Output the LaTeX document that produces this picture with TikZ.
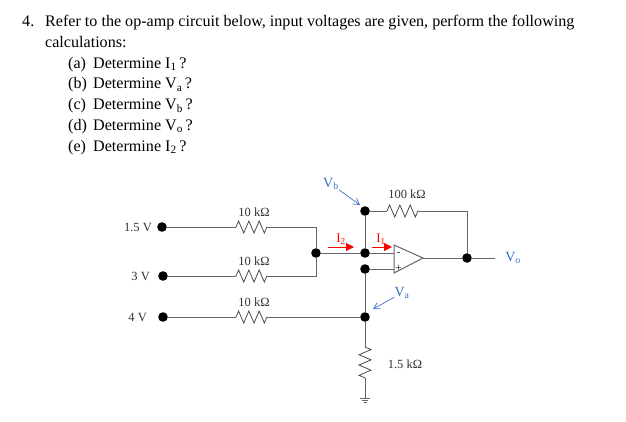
\documentclass[tikz,border=0pt]{standalone}
\usepackage{fontspec}
\setmainfont{Liberation Serif}
\usetikzlibrary{arrows.meta, decorations.pathmorphing}

\begin{document}
\begin{tikzpicture}[
    x=1pt, y=-1pt,
    wire/.style={draw=black!60, line width=1pt},
    res/.style={draw=black!70, line width=0.8pt, decorate, decoration={zigzag, segment length=10.3pt, amplitude=6pt}},
    dot/.style={circle, fill=black, inner sep=0pt, minimum size=9.6pt},
    line/.style={anchor=base west, inner sep=0pt, font=\fontsize{16.1}{18}\selectfont},
    lab/.style={inner sep=0pt, font=\fontsize{12.5}{14}\selectfont, text=black!80},
    volt/.style={lab, anchor=east},
    iarrow/.style={-{Triangle[length=8pt,width=8pt]}, red, line width=1pt},
    varrow/.style={-{Straight Barb[length=6pt,width=7pt]}, draw={rgb,255:red,68;green,114;blue,196}, line width=0.7pt},
    blue lab/.style={inner sep=0pt, font=\fontsize{14}{15}\selectfont, text={rgb,255:red,46;green,117;blue,200}}
  ]
  \useasboundingbox[fill=white] (0,0) rectangle (626,421);

  % question text
  \node[line] (num)  at (22,26)  {4.};
  \node[line] (txt1) at (45,26)  {Refer to the op-amp circuit below, input voltages are given, perform the following};
  \node[line] (txt2) at (45,47)  {calculations:};
  \node[line] (a1) at (68,68)    {(a)};
  \node[line] (a2) at (93,68)    {Determine I\textsubscript{1}\,?};
  \node[line] (b1) at (68,88.5)  {(b)};
  \node[line] (b2) at (93,88.5)  {Determine V\textsubscript{a}\,?};
  \node[line] (c1) at (68,109.5) {(c)};
  \node[line] (c2) at (93,109.5) {Determine V\textsubscript{b}\,?};
  \node[line] (d1) at (68,130)   {(d)};
  \node[line] (d2) at (93,130)   {Determine V\textsubscript{o}\,?};
  \node[line] (e1) at (68,151)   {(e)};
  \node[line] (e2) at (93,151)   {Determine I\textsubscript{2}\,?};

  % junctions
  \node[dot] (in1)  at (162,227) {};
  \node[dot] (in2)  at (163,276) {};
  \node[dot] (in3)  at (163,317) {};
  \node[dot] (sum)  at (316,253) {};
  \node[dot] (top)  at (365,211) {};
  \node[dot] (nminus) at (365,253) {};
  \node[dot] (nplus)  at (365,269) {};
  \node[dot] (nva)  at (365,317) {};
  \node[dot] (out)  at (467,258) {};

  % resistor ends and wire corners
  \coordinate (r1a) at (236,227);  \coordinate (r1b) at (267,227);
  \coordinate (r2a) at (236,276);  \coordinate (r2b) at (267,276);
  \coordinate (r3a) at (236,317);  \coordinate (r3b) at (267,317);
  \coordinate (rfa) at (387,211);  \coordinate (rfb) at (419,211);
  \coordinate (rga) at (365,347);  \coordinate (rgb) at (365,378);
  \coordinate (gnd) at (365,398);
  \coordinate (k1)  at (316,227);  \coordinate (k2)  at (316,276);
  \coordinate (kf)  at (467,211);
  \coordinate (vout) at (495,258);
  \coordinate (g1l) at (360,398);  \coordinate (g1r) at (370,398);
  \coordinate (g2l) at (362,400.5);\coordinate (g2r) at (368,400.5);
  \coordinate (g3l) at (363.5,402.5);\coordinate (g3r) at (366.5,402.5);

  % op-amp
  \coordinate (oa) at (394,245);
  \coordinate (ob) at (394,273);
  \coordinate (oc) at (423,258);
  \coordinate (om) at (394,253);
  \coordinate (op) at (394,269);
  \draw[wire] (oa) -- (oc) -- (ob) -- cycle;
  \node[inner sep=0pt, font=\fontsize{10}{10}\selectfont] (minus) at (398.5,254) {-};
  \node[inner sep=0pt, font=\fontsize{11}{11}\selectfont] (plus)  at (398.5,268) {+};

  % wires
  \draw[wire] (in1) -- (r1a);
  \draw[res]  (r1a) -- (r1b);
  \draw[wire] (r1b) -- (k1) -- (sum);
  \draw[wire] (in2) -- (r2a);
  \draw[res]  (r2a) -- (r2b);
  \draw[wire] (r2b) -- (k2) -- (sum);
  \draw[wire] (in3) -- (r3a);
  \draw[res]  (r3a) -- (r3b);
  \draw[wire] (r3b) -- (nva);
  \draw[wire] (sum) -- (nminus);
  \draw[wire] (top) -- (nminus);
  \draw[wire] (nminus) -- (om);
  \draw[wire] (nplus) -- (op);
  \draw[wire] (nplus) -- (nva);
  \draw[wire] (top) -- (rfa);
  \draw[res]  (rfa) -- (rfb);
  \draw[wire] (rfb) -- (kf) -- (out);
  \draw[wire] (oc) -- (out);
  \draw[wire] (out) -- (vout);
  \draw[wire] (nva) -- (rga);
  \draw[res]  (rga) -- (rgb);
  \draw[wire] (rgb) -- (gnd);
  \draw[wire] (g1l) -- (g1r);
  \draw[wire] (g2l) -- (g2r);
  \draw[wire] (g3l) -- (g3r);

  % labels
  \node[volt] (v1) at (152,227) {1.5 V};
  \node[volt] (v2) at (150,276) {3 V};
  \node[volt] (v3) at (147,317) {4 V};
  \node[lab] (r1) at (254,212) {10 kΩ};
  \node[lab] (r2) at (254,261) {10 kΩ};
  \node[lab] (r3) at (254,302) {10 kΩ};
  \node[lab] (rf) at (407,194) {100 kΩ};
  \node[lab] (rg) at (405,364) {1.5 kΩ};

  % currents
  \coordinate (i2a) at (328,247);  \coordinate (i2b) at (354,247);
  \coordinate (i1a) at (372,247);  \coordinate (i1b) at (392,247);
  \draw[iarrow] (i2a) -- (i2b);
  \draw[iarrow] (i1a) -- (i1b);
  \node[inner sep=0pt, font=\fontsize{13}{14}\selectfont, text=red] (i2) at (341,239) {I\textsubscript{2}};
  \node[inner sep=0pt, font=\fontsize{13}{14}\selectfont, text=red] (i1) at (381,239) {I\textsubscript{1}};

  % voltages
  \node[blue lab] (vb) at (331,184) {V\textsubscript{b}};
  \node[blue lab] (va) at (402,293) {V\textsubscript{a}};
  \node[blue lab] (vo) at (513,258) {V\textsubscript{o}};
  \coordinate (vbt) at (360,205);
  \coordinate (vat) at (373,309);
  \draw[varrow] (vb) -- (vbt);
  \draw[varrow] (va) -- (vat);

\end{tikzpicture}
\end{document}
